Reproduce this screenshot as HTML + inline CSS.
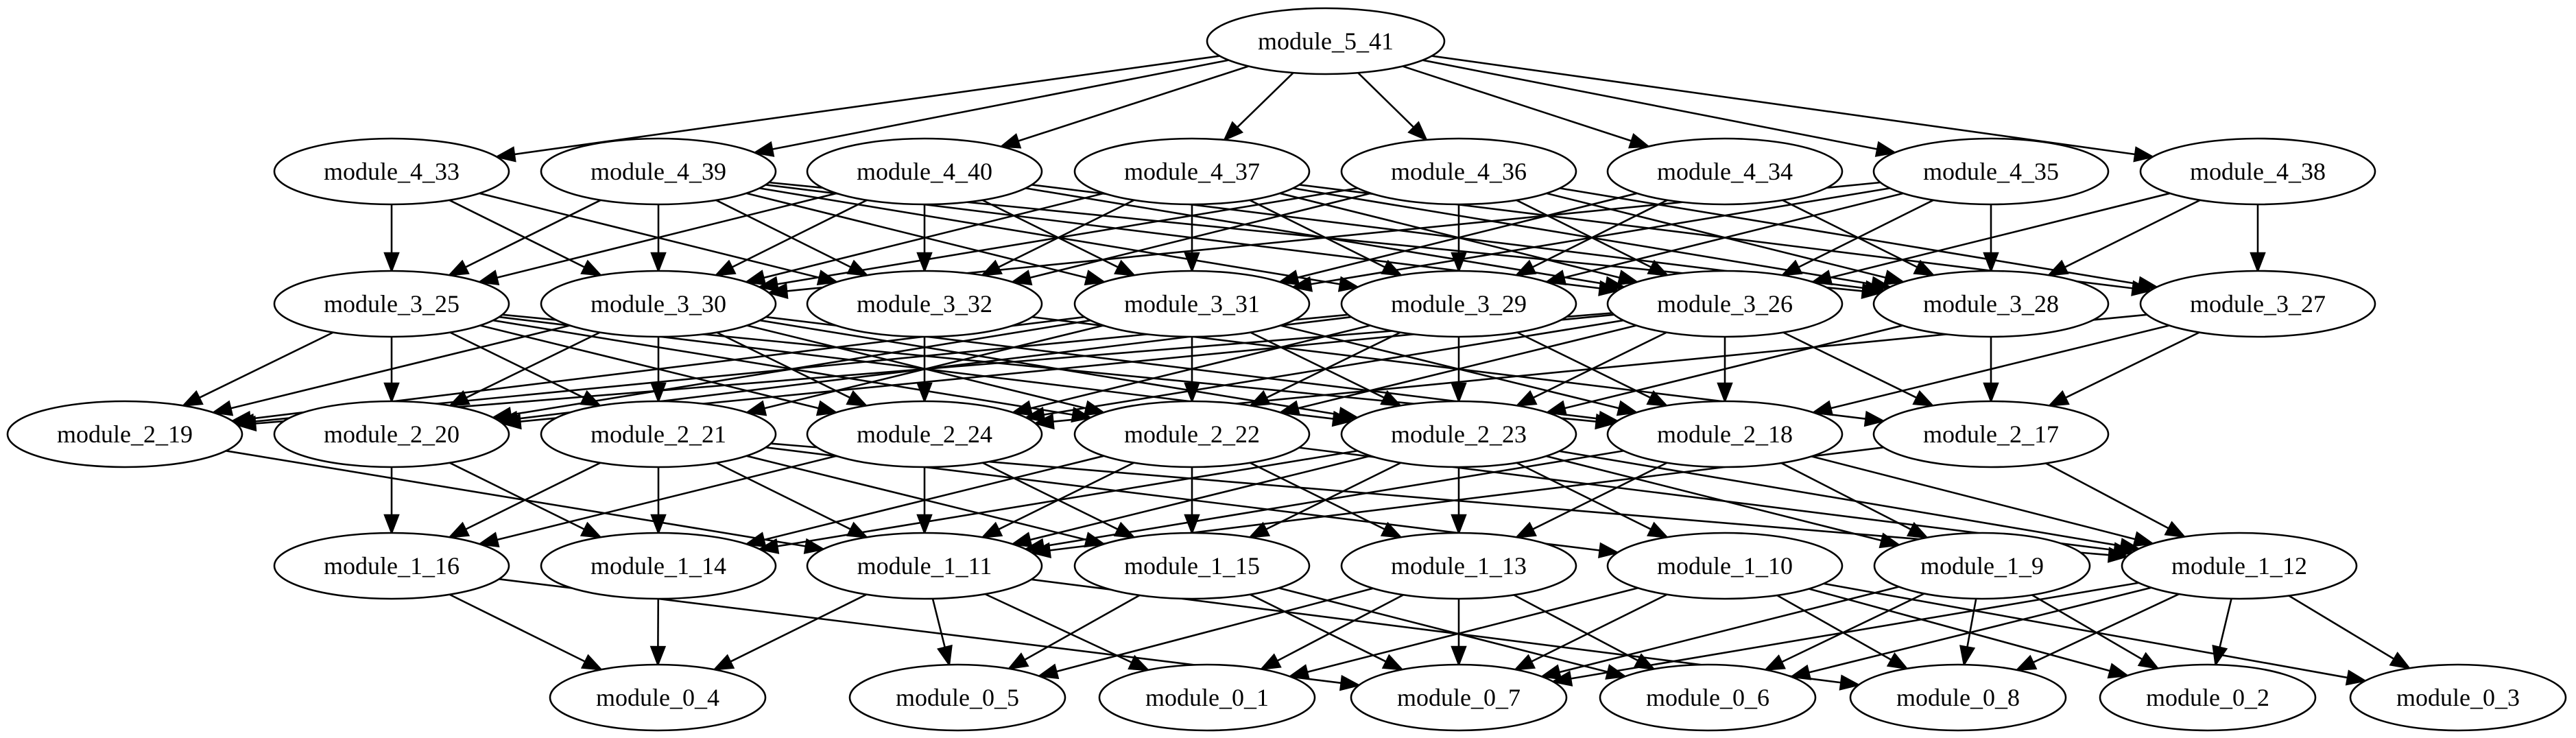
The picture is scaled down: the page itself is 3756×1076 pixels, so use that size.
<!DOCTYPE html>
<html><head><meta charset="utf-8"><style>
html,body{margin:0;padding:0;background:#fff;width:3756px;height:1076px;overflow:hidden}
svg text{font-family:"Liberation Serif","DejaVu Serif",serif;font-size:36px}
</style></head><body>
<svg id="g" xmlns="http://www.w3.org/2000/svg" width="3756" height="1076" viewBox="0 0 3756 1076">
<rect width="3756" height="1076" fill="#fff"/>
</svg>
<script>
var X=[571,960,1348,1738,2127,2515,2903,3292];
var N={
'5_41':[1933,60,173],
'4_33':[X[0],250],'4_39':[X[1],250],'4_40':[X[2],250],'4_37':[X[3],250],'4_36':[X[4],250],'4_34':[X[5],250],'4_35':[X[6],250],'4_38':[X[7],250],
'3_25':[X[0],443],'3_30':[X[1],443],'3_32':[X[2],443],'3_31':[X[3],443],'3_29':[X[4],443],'3_26':[X[5],443],'3_28':[X[6],443],'3_27':[X[7],443],
'2_19':[182,633],'2_20':[X[0],633],'2_21':[X[1],633],'2_24':[X[2],633],'2_22':[X[3],633],'2_23':[X[4],633],'2_18':[X[5],633],'2_17':[X[6],633],
'1_16':[X[0],825],'1_14':[X[1],825],'1_11':[X[2],825],'1_15':[X[3],825],'1_13':[X[4],825],'1_10':[X[5],825],'1_9':[2890,825,157],'1_12':[3265,825],
'0_4':[959,1017,157],'0_5':[1396,1017,157],'0_1':[1760,1017,157],'0_7':[2127,1017,157],'0_6':[2490,1017,157],'0_8':[2855,1017,157],'0_2':[3219,1017,157],'0_3':[3584,1017,157]
};
var E={
'5_41':['4_33','4_39','4_40','4_37','4_36','4_34','4_35','4_38'],
'4_33':['3_25','3_30','3_32'],
'4_39':['3_25','3_30','3_32','3_31','3_29','3_26','3_28'],
'4_40':['3_25','3_30','3_32','3_31','3_26','3_28'],
'4_37':['3_30','3_32','3_31','3_29','3_26','3_28','3_27'],
'4_36':['3_30','3_32','3_29','3_26','3_28','3_27'],
'4_34':['3_31','3_29','3_28'],
'4_35':['3_30','3_31','3_29','3_26','3_28'],
'4_38':['3_26','3_28','3_27'],
'3_25':['2_19','2_20','2_21','2_24','2_22','2_23','2_18'],
'3_30':['2_19','2_20','2_21','2_24','2_22','2_23','2_18'],
'3_32':['2_24','2_17'],
'3_31':['2_19','2_20','2_21','2_22','2_23','2_18'],
'3_29':['2_19','2_20','2_24','2_22','2_23','2_18'],
'3_26':['2_19','2_20','2_24','2_22','2_23','2_18','2_17'],
'3_28':['2_23','2_17'],
'3_27':['2_24','2_18','2_17'],
'2_19':['1_11'],
'2_20':['1_16','1_14'],
'2_21':['1_16','1_14','1_11','1_15','1_10','1_12'],
'2_24':['1_16','1_11','1_15'],
'2_22':['1_14','1_11','1_15','1_13','1_12'],
'2_23':['1_14','1_11','1_15','1_13','1_10','1_9','1_12'],
'2_18':['1_11','1_13','1_9','1_12'],
'2_17':['1_11','1_12'],
'1_16':['0_4','0_7'],
'1_14':['0_4'],
'1_11':['0_4','0_5','0_1','0_8'],
'1_15':['0_5','0_7','0_6'],
'1_13':['0_5','0_1','0_7','0_6'],
'1_10':['0_1','0_7','0_8','0_2','0_3'],
'1_9':['0_7','0_6','0_8','0_2'],
'1_12':['0_7','0_6','0_8','0_2','0_3']
};
var RY=48,svg=document.getElementById('g'),ns='http://www.w3.org/2000/svg',out='';
function rx(k){return N[k][2]||171;}
function clip(k,dx,dy){var r=rx(k),t=1/Math.sqrt((dx/r)*(dx/r)+(dy/RY)*(dy/RY));return [N[k][0]+dx*t,N[k][1]+dy*t];}
for(var s in E){E[s].forEach(function(t){
 var dx=N[t][0]-N[s][0],dy=N[t][1]-N[s][1],L=Math.hypot(dx,dy),ux=dx/L,uy=dy/L;
 var a=clip(s,dx,dy),b=clip(t,-dx,-dy);
 var bx=b[0]-ux*26,by=b[1]-uy*26,px=-uy*10,py=ux*10;
 out+='<line x1="'+a[0]+'" y1="'+a[1]+'" x2="'+bx+'" y2="'+by+'" stroke="#000" stroke-width="2.6"/>';
 out+='<polygon points="'+b[0]+','+b[1]+' '+(bx+px)+','+(by+py)+' '+(bx-px)+','+(by-py)+'" fill="#000" stroke="#000" stroke-width="2.4"/>';
});}
for(var k in N){
 out+='<ellipse cx="'+N[k][0]+'" cy="'+N[k][1]+'" rx="'+rx(k)+'" ry="'+RY+'" fill="#fff" stroke="#000" stroke-width="2.6"/>';
 out+='<text x="'+N[k][0]+'" y="'+(N[k][1]+12)+'" text-anchor="middle">module_'+k+'</text>';
}
svg.insertAdjacentHTML('beforeend',out);
</script>
</body></html>
